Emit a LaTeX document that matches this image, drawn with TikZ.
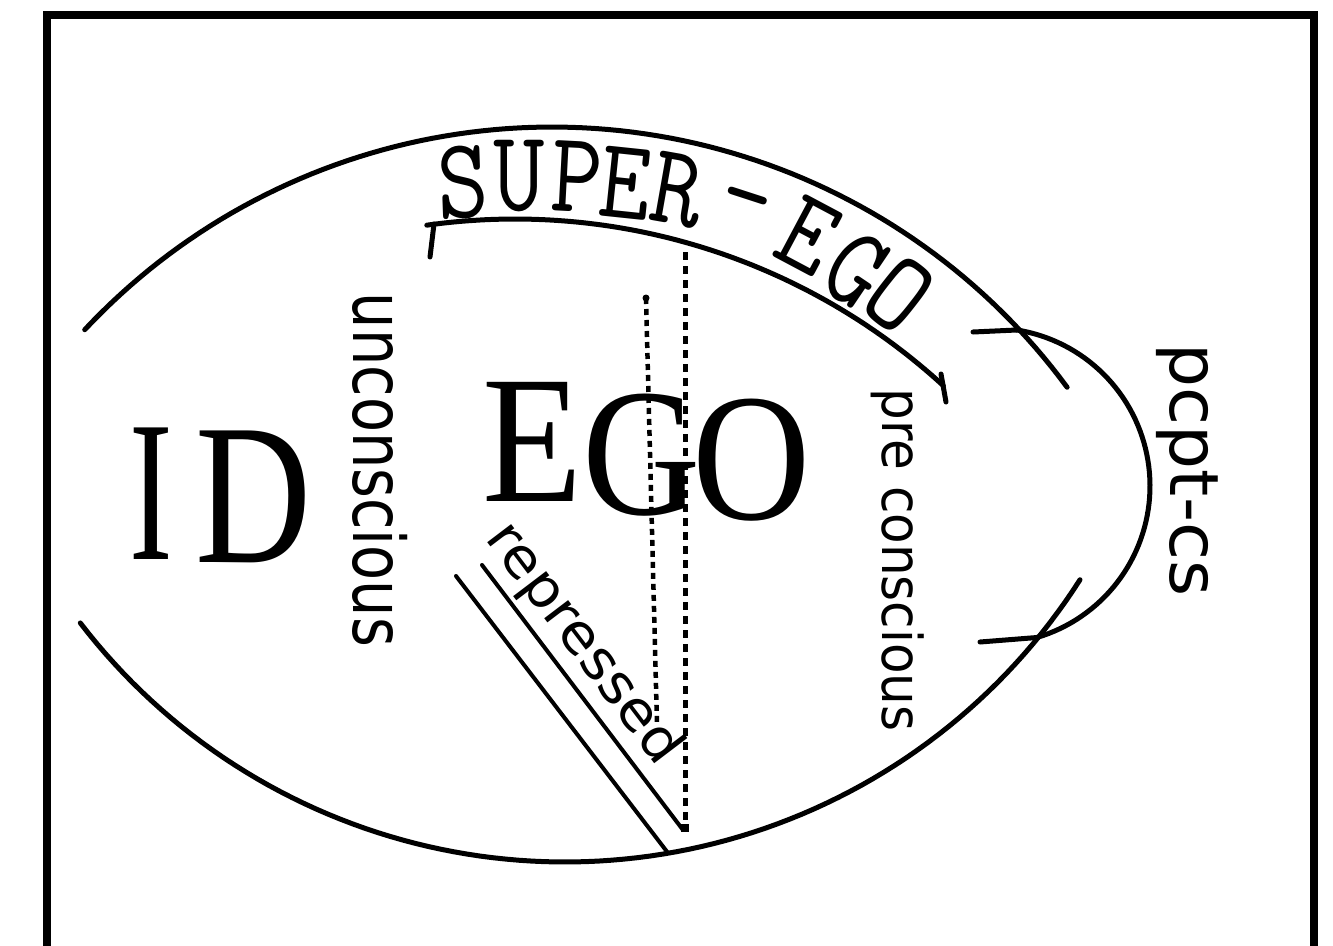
\documentclass[tikz,border=0pt]{standalone}
\usepackage{fontspec}
\usepackage{graphicx}
\setmainfont{Liberation Serif}
\newfontfamily\dotfont{DejaVu Sans}
\tikzset{
  contour/.style={line width=5pt, line cap=round, line join=round},
  underline/.style={line width=4pt, line cap=round},
  dotline/.style={line width=5pt, dash pattern=on 8pt off 6pt},
  framebox/.style={line width=8pt},
  bigletter/.style={inner sep=0pt, anchor=center},
  arcletter/.style={inner sep=0pt, anchor=center, font=\ttfamily\fontsize{100}{100}\selectfont},
  smalltext/.style={inner sep=0pt, anchor=center},
}
\newcommand{\arcchar}[1]{\scalebox{1}[1.15]{#1}}
\begin{document}
\begin{tikzpicture}[x=1pt,y=-1pt]
\useasboundingbox (0,0) rectangle (1333,945);
\fill[white] (0,0) rectangle (1333,945);
% frame
\coordinate (fBL) at (47,1010);
\coordinate (fTL) at (47,15);
\coordinate (fTR) at (1314,15);
\coordinate (fBR) at (1314,1010);
\draw[framebox] (fBL) -- (fTL) -- (fTR) -- (fBR);
% outer lens: top arc and bottom arc
\draw[contour] plot[domain=36.4:136.9, samples=90] ({552+640*cos(\x)},{767-640*sin(\x)});
\draw[contour] plot[domain=32.55:142.5, samples=90] ({565+611*cos(\x)},{251+611*sin(\x)});
% super-ego arc with end ticks
\draw[contour] plot[domain=47.5:98, samples=70] ({515+634*cos(\x)},{853-634*sin(\x)});
\coordinate (seL1) at (434,224);
\coordinate (seL2) at (430,257);
\coordinate (seR1) at (941,374);
\coordinate (seR2) at (946,402);
\draw[contour] (seL1) -- (seL2);
\draw[contour] (seR1) -- (seR2);
% pcpt-cs bracket
\coordinate (pcA) at (1016.7,330);
\coordinate (pcB) at (1036.9,637.5);
\coordinate (pcTa) at (973,332);
\coordinate (pcTb) at (980,642);
\draw[contour] plot[domain=-73.5:81, samples=70] ({992+158*cos(\x)},{486-158*sin(\x)});
\draw[contour] (pcTa) -- (pcA);
\draw[contour] (pcB) -- (pcTb);
% repressed lines
\coordinate (r1a) at (456,576);
\coordinate (r1b) at (668,853);
\coordinate (r2a) at (482,565);
\coordinate (r2b) at (683,830);
\draw[underline] (r1a) -- (r1b);
\draw[underline] (r2a) -- (r2b);
% texts
\node[bigletter] (I) at (151.5,494) {\fontsize{201}{201}\selectfont\scalebox{0.65}[1]{I}};
\node[bigletter] (D) at (253.5,497) {\fontsize{201}{201}\selectfont\scalebox{0.8}[1]{D}};
\node[bigletter] (E1) at (533,442) {\fontsize{182}{182}\selectfont\scalebox{0.9}[1]{E}};
\node[bigletter] (G1) at (642,455) {\fontsize{182}{182}\selectfont\scalebox{0.9}[1]{G}};
\node[bigletter] (O1) at (752,460) {\fontsize{182}{182}\selectfont\scalebox{0.9}[1]{O}};
% super-ego letters
\node[arcletter, rotate=2] (s1) at (463,182) {\arcchar{S}};
\node[arcletter, rotate=0] (s2) at (519,176) {\arcchar{U}};
\node[arcletter, rotate=-3] (s3) at (577,177) {\arcchar{P}};
\node[arcletter, rotate=-6] (s4) at (626,183) {\arcchar{E}};
\node[arcletter, rotate=-10] (s5) at (678,190) {\arcchar{R}};
\node[arcletter, rotate=-18] (s6) at (743,211) {\arcchar{-}};
\node[arcletter, rotate=-28] (s7) at (809,236) {\arcchar{E}};
\node[arcletter, rotate=-34] (s8) at (856,270) {\arcchar{G}};
\node[arcletter, rotate=-38] (s9) at (899,295) {\arcchar{O}};
% small texts
\node[smalltext, rotate=-90] (unc) at (380,470) {\dotfont\fontsize{60}{60}\selectfont\scalebox{0.955}[1.19]{unconscious}};
\node[smalltext, rotate=-90] (pre) at (898,560) {\dotfont\fontsize{50}{50}\selectfont\scalebox{1}[1.1]{pre conscious}};
\node[smalltext, rotate=-90] (pcpt) at (1187,470) {\dotfont\fontsize{68}{68}\selectfont\scalebox{1.02}[1]{pcpt-cs}};
\node[smalltext, rotate=-52.8] (rep) at (583,644) {\dotfont\fontsize{56}{56}\selectfont\scalebox{1.04}[0.98]{repressed}};
% dotted lines
\coordinate (dL1) at (685,252);
\coordinate (dL2) at (685,830);
\coordinate (dS1) at (646,298);
\coordinate (dS2) at (657,725);
\draw[dotline] (dL1) -- (dL2);
\draw[dotline, line width=4.5pt, dash pattern=on 6pt off 5pt] (dS1) -- (dS2);
\fill (dS1) circle (3.5pt);
\fill (dL2) ++(-4,-6) rectangle ++(8,8);
\end{tikzpicture}
\end{document}
